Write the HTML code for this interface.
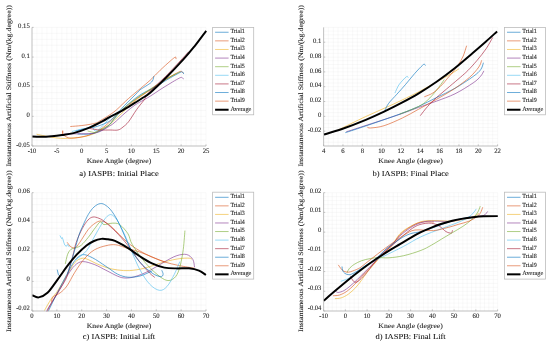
<!DOCTYPE html>
<html><head><meta charset="utf-8"><title>IASPB figure</title>
<style>html,body{margin:0;padding:0;background:#fff}svg{display:block}text{stroke:#262626;stroke-width:.1px;text-rendering:geometricPrecision}</style></head>
<body><svg width="550" height="344" viewBox="0 0 550 344" font-family="'Liberation Serif', 'DejaVu Serif', serif">
<rect width="550" height="344" fill="#fff"/>
<path d="M32.00 27.40V146.00M36.97 27.40V146.00M41.94 27.40V146.00M46.91 27.40V146.00M51.89 27.40V146.00M56.86 27.40V146.00M61.83 27.40V146.00M66.80 27.40V146.00M71.77 27.40V146.00M76.74 27.40V146.00M81.71 27.40V146.00M86.69 27.40V146.00M91.66 27.40V146.00M96.63 27.40V146.00M101.60 27.40V146.00M106.57 27.40V146.00M111.54 27.40V146.00M116.51 27.40V146.00M121.49 27.40V146.00M126.46 27.40V146.00M131.43 27.40V146.00M136.40 27.40V146.00M141.37 27.40V146.00M146.34 27.40V146.00M151.31 27.40V146.00M156.29 27.40V146.00M161.26 27.40V146.00M166.23 27.40V146.00M171.20 27.40V146.00M176.17 27.40V146.00M181.14 27.40V146.00M186.11 27.40V146.00M191.09 27.40V146.00M196.06 27.40V146.00M201.03 27.40V146.00M206.00 27.40V146.00M32.00 146.00H206.00M32.00 140.07H206.00M32.00 134.14H206.00M32.00 128.21H206.00M32.00 122.28H206.00M32.00 116.35H206.00M32.00 110.42H206.00M32.00 104.49H206.00M32.00 98.56H206.00M32.00 92.63H206.00M32.00 86.70H206.00M32.00 80.77H206.00M32.00 74.84H206.00M32.00 68.91H206.00M32.00 62.98H206.00M32.00 57.05H206.00M32.00 51.12H206.00M32.00 45.19H206.00M32.00 39.26H206.00M32.00 33.33H206.00M32.00 27.40H206.00" stroke="#e4e4e4" stroke-width="0.4" fill="none" opacity="0.55"/>
<path d="M37.0 134.3C38.3 134.6 41.9 135.4 45.0 136.0C48.1 136.6 52.1 137.4 55.6 137.8C59.1 138.2 61.6 138.5 65.9 138.4C70.2 138.3 76.9 137.7 81.2 137.1C85.5 136.5 88.4 135.7 91.5 134.6C94.6 133.5 96.9 132.3 100.0 130.5C103.1 128.7 106.7 126.6 110.0 124.0C113.3 121.4 115.8 118.8 120.0 115.0C124.2 111.2 130.0 105.2 135.0 101.0C140.0 96.8 145.0 93.5 150.0 90.0C155.0 86.5 160.8 82.7 165.0 80.0C169.2 77.3 173.3 75.0 175.0 74.0" stroke="#EDB120" stroke-width="0.85" stroke-opacity="0.72" fill="none" stroke-linecap="round" stroke-linejoin="round"/>
<path d="M70.7 126.5C72.5 126.3 78.0 126.0 81.2 125.6C84.5 125.2 87.6 124.8 90.2 124.3C92.8 123.8 95.0 123.4 96.6 122.8C98.2 122.2 98.1 121.9 100.0 120.8C101.9 119.7 105.3 117.8 108.0 116.0C110.7 114.2 112.9 112.9 116.3 110.0C119.7 107.1 124.4 102.1 128.5 98.5C132.6 94.9 137.1 91.3 140.7 88.3C144.3 85.2 146.9 83.2 150.2 80.2C153.4 77.2 156.9 73.4 160.2 70.2C163.5 67.0 167.8 63.2 170.2 61.1C172.5 59.0 173.4 58.4 174.3 57.7C175.2 57.0 175.3 56.8 175.6 57.0C175.9 57.2 175.9 58.4 176.0 58.7" stroke="#D95319" stroke-width="0.85" stroke-opacity="0.72" fill="none" stroke-linecap="round" stroke-linejoin="round"/>
<path d="M62.7 134.0C62.7 133.4 62.6 130.6 62.7 130.7C62.8 130.8 62.3 133.4 63.3 134.6C64.2 135.8 66.5 137.2 68.4 137.8C70.3 138.4 72.2 138.2 74.8 138.0C77.4 137.8 80.6 137.3 83.8 136.5C87.0 135.7 90.5 134.8 94.0 133.0C97.5 131.2 101.0 129.2 105.0 126.0C109.0 122.8 113.0 118.3 118.0 114.0C123.0 109.7 129.7 104.0 135.0 100.0C140.3 96.0 145.0 93.3 150.0 90.0C155.0 86.7 160.7 82.8 165.0 80.0C169.3 77.2 173.3 75.0 176.0 73.5C178.7 72.0 179.8 71.4 181.0 71.3C182.2 71.2 182.7 72.7 183.0 73.0" stroke="#D95319" stroke-width="0.85" stroke-opacity="0.72" fill="none" stroke-linecap="round" stroke-linejoin="round"/>
<path d="M76.0 131.0C77.5 130.6 81.8 129.2 85.0 128.5C88.2 127.8 91.5 127.9 95.0 127.0C98.5 126.1 103.1 124.4 106.0 123.0C108.9 121.6 109.1 121.7 112.2 118.8C115.3 115.9 120.8 109.4 124.4 105.6C128.0 101.8 131.4 98.6 134.0 96.0C136.6 93.4 138.4 91.3 140.0 89.9C141.6 88.5 141.8 88.8 143.5 87.6C145.2 86.4 148.9 84.3 150.5 83.0C152.1 81.7 152.6 80.6 153.1 79.5C153.6 78.4 153.6 77.1 153.7 76.6" stroke="#0072BD" stroke-width="0.85" stroke-opacity="0.72" fill="none" stroke-linecap="round" stroke-linejoin="round"/>
<path d="M78.0 134.0C80.0 134.0 86.3 134.5 90.0 134.0C93.7 133.5 97.0 132.3 100.0 131.0C103.0 129.7 105.5 128.2 108.0 126.0C110.5 123.8 112.2 121.2 115.0 118.0C117.8 114.8 120.8 110.8 125.0 107.0C129.2 103.2 135.0 98.3 140.0 95.0C145.0 91.7 150.0 89.8 155.0 87.0C160.0 84.2 165.8 80.4 170.0 78.0C174.2 75.6 177.9 73.5 180.0 72.5C182.1 71.5 182.0 71.8 182.6 72.0C183.2 72.2 183.3 73.3 183.5 73.6" stroke="#0072BD" stroke-width="0.85" stroke-opacity="0.72" fill="none" stroke-linecap="round" stroke-linejoin="round"/>
<path d="M64.6 134.0C66.8 134.0 73.5 133.9 78.0 133.8C82.5 133.7 87.8 133.9 91.5 133.5C95.2 133.1 97.2 132.6 100.0 131.5C102.8 130.4 105.7 128.4 108.0 127.0C110.3 125.6 111.2 125.3 114.0 123.0C116.8 120.7 121.5 116.0 125.0 113.0C128.5 110.0 131.9 107.2 135.0 105.0C138.1 102.8 141.1 101.5 143.7 100.0C146.3 98.5 148.1 97.5 150.8 95.8C153.5 94.1 156.8 91.8 160.0 89.7C163.2 87.7 167.0 85.3 170.0 83.5C173.0 81.7 176.1 79.8 178.0 78.8C179.9 77.8 180.6 77.4 181.5 77.4C182.4 77.4 183.0 78.6 183.3 78.8" stroke="#7E2F8E" stroke-width="0.85" stroke-opacity="0.72" fill="none" stroke-linecap="round" stroke-linejoin="round"/>
<path d="M88.0 131.0C89.2 131.2 93.0 132.7 95.0 132.5C97.0 132.3 98.2 130.9 100.0 130.0C101.8 129.1 104.3 127.9 106.0 127.0C107.7 126.1 108.3 126.3 110.0 124.5C111.7 122.7 113.5 118.9 116.0 116.0C118.5 113.1 121.0 110.3 125.0 107.0C129.0 103.7 135.0 99.5 140.0 96.0C145.0 92.5 150.0 89.2 155.0 86.0C160.0 82.8 165.8 79.3 170.0 77.0C174.2 74.7 178.3 72.8 180.0 72.0" stroke="#77AC30" stroke-width="0.85" stroke-opacity="0.72" fill="none" stroke-linecap="round" stroke-linejoin="round"/>
<path d="M72.3 131.4C73.6 131.1 77.4 130.1 80.0 129.5C82.6 128.9 86.0 128.6 88.0 128.0C90.0 127.4 90.8 125.5 92.0 126.0C93.2 126.5 93.7 130.6 95.0 131.0C96.3 131.4 98.2 130.0 100.0 128.5C101.8 127.0 104.0 124.1 106.0 122.0C108.0 119.9 111.0 117.0 112.0 116.0" stroke="#4DBEEE" stroke-width="0.85" stroke-opacity="0.72" fill="none" stroke-linecap="round" stroke-linejoin="round"/>
<path d="M90.0 128.5C91.7 128.8 96.7 129.8 100.0 130.0C103.3 130.2 107.0 130.0 110.0 130.0C113.0 130.0 115.8 130.5 118.0 130.0C120.2 129.5 121.2 128.4 123.0 127.0C124.8 125.6 126.2 124.7 128.5 121.8C130.8 118.9 134.1 113.1 136.6 109.6C139.1 106.0 141.5 103.5 143.7 100.5C145.9 97.5 146.2 95.5 149.8 91.5C153.4 87.5 159.9 82.1 165.4 76.6C170.9 71.1 178.8 62.4 182.6 58.3C186.4 54.2 187.4 53.0 188.3 52.0" stroke="#A2142F" stroke-width="0.85" stroke-opacity="0.72" fill="none" stroke-linecap="round" stroke-linejoin="round"/>
<path d="M32.2 136.5C33.8 136.6 38.7 136.9 42.0 136.8C45.3 136.8 48.5 136.5 51.8 136.2C55.1 135.9 58.4 135.5 62.0 135.0C65.6 134.5 69.2 134.2 73.6 133.1C78.0 132.0 83.3 130.2 88.2 128.2C93.1 126.2 99.1 123.1 102.7 121.2C106.3 119.3 107.1 118.4 110.0 116.8C112.9 115.2 117.0 113.5 120.3 111.7C123.6 109.9 126.4 108.0 130.0 105.8C133.6 103.6 138.3 100.7 141.7 98.5C145.1 96.3 146.4 95.9 150.5 92.4C154.6 88.9 160.7 83.0 166.2 77.5C171.7 72.0 178.9 64.4 183.6 59.2C188.3 54.0 190.7 51.0 194.5 46.3C198.3 41.6 204.2 33.4 206.2 30.8" stroke="#000" stroke-width="1.95" fill="none" stroke-linecap="butt"/>
<path d="M32.00 27.40V146.00H206.00 M32.00 146.00v-1.6M56.86 146.00v-1.6M81.71 146.00v-1.6M106.57 146.00v-1.6M131.43 146.00v-1.6M156.29 146.00v-1.6M181.14 146.00v-1.6M206.00 146.00v-1.6M32.00 146.00h1.6M32.00 116.35h1.6M32.00 86.70h1.6M32.00 57.05h1.6M32.00 27.40h1.6" stroke="#b4b4b4" stroke-width="0.8" fill="none"/>
<text x="32.0" y="153.4" font-size="6.8" text-anchor="middle" textLength="8.58" lengthAdjust="spacingAndGlyphs" fill="#262626">-10</text>
<text x="56.9" y="153.4" font-size="6.8" text-anchor="middle" textLength="5.23" lengthAdjust="spacingAndGlyphs" fill="#262626">-5</text>
<text x="81.7" y="153.4" font-size="6.8" text-anchor="middle" textLength="3.35" lengthAdjust="spacingAndGlyphs" fill="#262626">0</text>
<text x="106.6" y="153.4" font-size="6.8" text-anchor="middle" textLength="3.35" lengthAdjust="spacingAndGlyphs" fill="#262626">5</text>
<text x="131.4" y="153.4" font-size="6.8" text-anchor="middle" textLength="6.70" lengthAdjust="spacingAndGlyphs" fill="#262626">10</text>
<text x="156.3" y="153.4" font-size="6.8" text-anchor="middle" textLength="6.70" lengthAdjust="spacingAndGlyphs" fill="#262626">15</text>
<text x="181.1" y="153.4" font-size="6.8" text-anchor="middle" textLength="6.70" lengthAdjust="spacingAndGlyphs" fill="#262626">20</text>
<text x="206.0" y="153.4" font-size="6.8" text-anchor="middle" textLength="6.70" lengthAdjust="spacingAndGlyphs" fill="#262626">25</text>
<text x="29.8" y="146.5" font-size="6.8" text-anchor="end" textLength="13.60" lengthAdjust="spacingAndGlyphs" fill="#262626">-0.05</text>
<text x="29.8" y="116.9" font-size="6.8" text-anchor="end" textLength="3.35" lengthAdjust="spacingAndGlyphs" fill="#262626">0</text>
<text x="29.8" y="87.3" font-size="6.8" text-anchor="end" textLength="11.72" lengthAdjust="spacingAndGlyphs" fill="#262626">0.05</text>
<text x="29.8" y="57.8" font-size="6.8" text-anchor="end" textLength="8.38" lengthAdjust="spacingAndGlyphs" fill="#262626">0.1</text>
<text x="29.8" y="28.2" font-size="6.8" text-anchor="end" textLength="11.72" lengthAdjust="spacingAndGlyphs" fill="#262626">0.15</text>
<text x="119.0" y="163.0" font-size="6.8" text-anchor="middle" textLength="64.5" lengthAdjust="spacingAndGlyphs" fill="#262626">Knee Angle (degree)</text>
<text x="119.0" y="176.1" font-size="7.7" text-anchor="middle" textLength="79.5" lengthAdjust="spacingAndGlyphs" fill="#0a0a0a" style="stroke:#0a0a0a;stroke-width:.05px">a) IASPB: Initial Place</text>
<text transform="translate(10.8 85.8) rotate(-90)" font-size="6.8" text-anchor="middle" textLength="161.5" lengthAdjust="spacingAndGlyphs" fill="#262626">Instantaneous Artificial Stiffness (Nm/(kg.degree))</text>
<rect x="212.60" y="27.40" width="41.1" height="87.4" fill="#fff" stroke="#bcbcbc" stroke-width="0.8"/>
<path d="M215.1 32.25H228.6" stroke="#0072BD" stroke-width="1" stroke-opacity="0.58"/>
<text x="230.4" y="33.1" font-size="6.3" textLength="14.5" lengthAdjust="spacingAndGlyphs" fill="#262626">Trial1</text>
<path d="M215.1 40.86H228.6" stroke="#D95319" stroke-width="1" stroke-opacity="0.58"/>
<text x="230.4" y="41.8" font-size="6.3" textLength="14.5" lengthAdjust="spacingAndGlyphs" fill="#262626">Trial2</text>
<path d="M215.1 49.47H228.6" stroke="#EDB120" stroke-width="1" stroke-opacity="0.58"/>
<text x="230.4" y="50.4" font-size="6.3" textLength="14.5" lengthAdjust="spacingAndGlyphs" fill="#262626">Trial3</text>
<path d="M215.1 58.08H228.6" stroke="#7E2F8E" stroke-width="1" stroke-opacity="0.58"/>
<text x="230.4" y="59.0" font-size="6.3" textLength="14.5" lengthAdjust="spacingAndGlyphs" fill="#262626">Trial4</text>
<path d="M215.1 66.69H228.6" stroke="#77AC30" stroke-width="1" stroke-opacity="0.58"/>
<text x="230.4" y="67.6" font-size="6.3" textLength="14.5" lengthAdjust="spacingAndGlyphs" fill="#262626">Trial5</text>
<path d="M215.1 75.30H228.6" stroke="#4DBEEE" stroke-width="1" stroke-opacity="0.58"/>
<text x="230.4" y="76.2" font-size="6.3" textLength="14.5" lengthAdjust="spacingAndGlyphs" fill="#262626">Trial6</text>
<path d="M215.1 83.91H228.6" stroke="#A2142F" stroke-width="1" stroke-opacity="0.58"/>
<text x="230.4" y="84.8" font-size="6.3" textLength="14.5" lengthAdjust="spacingAndGlyphs" fill="#262626">Trial7</text>
<path d="M215.1 92.52H228.6" stroke="#0072BD" stroke-width="1" stroke-opacity="0.58"/>
<text x="230.4" y="93.4" font-size="6.3" textLength="14.5" lengthAdjust="spacingAndGlyphs" fill="#262626">Trial8</text>
<path d="M215.1 101.13H228.6" stroke="#D95319" stroke-width="1" stroke-opacity="0.58"/>
<text x="230.4" y="102.0" font-size="6.3" textLength="14.5" lengthAdjust="spacingAndGlyphs" fill="#262626">Trial9</text>
<path d="M215.1 109.74H228.6" stroke="#000" stroke-width="2"/>
<text x="230.4" y="110.6" font-size="6.3" textLength="21" lengthAdjust="spacingAndGlyphs" fill="#262626">Average</text>
<path d="M323.60 27.40V146.00M328.43 27.40V146.00M333.27 27.40V146.00M338.10 27.40V146.00M342.93 27.40V146.00M347.77 27.40V146.00M352.60 27.40V146.00M357.43 27.40V146.00M362.27 27.40V146.00M367.10 27.40V146.00M371.93 27.40V146.00M376.77 27.40V146.00M381.60 27.40V146.00M386.43 27.40V146.00M391.27 27.40V146.00M396.10 27.40V146.00M400.93 27.40V146.00M405.77 27.40V146.00M410.60 27.40V146.00M415.43 27.40V146.00M420.27 27.40V146.00M425.10 27.40V146.00M429.93 27.40V146.00M434.77 27.40V146.00M439.60 27.40V146.00M444.43 27.40V146.00M449.27 27.40V146.00M454.10 27.40V146.00M458.93 27.40V146.00M463.77 27.40V146.00M468.60 27.40V146.00M473.43 27.40V146.00M478.27 27.40V146.00M483.10 27.40V146.00M487.93 27.40V146.00M492.77 27.40V146.00M497.60 27.40V146.00M323.60 146.00H497.60M323.60 142.29H497.60M323.60 138.59H497.60M323.60 134.88H497.60M323.60 131.17H497.60M323.60 127.47H497.60M323.60 123.76H497.60M323.60 120.06H497.60M323.60 116.35H497.60M323.60 112.64H497.60M323.60 108.94H497.60M323.60 105.23H497.60M323.60 101.52H497.60M323.60 97.82H497.60M323.60 94.11H497.60M323.60 90.41H497.60M323.60 86.70H497.60M323.60 82.99H497.60M323.60 79.29H497.60M323.60 75.58H497.60M323.60 71.88H497.60M323.60 68.17H497.60M323.60 64.46H497.60M323.60 60.76H497.60M323.60 57.05H497.60M323.60 53.34H497.60M323.60 49.64H497.60M323.60 45.93H497.60M323.60 42.22H497.60M323.60 38.52H497.60M323.60 34.81H497.60M323.60 31.11H497.60M323.60 27.40H497.60" stroke="#e4e4e4" stroke-width="0.4" fill="none" opacity="0.55"/>
<path d="M338.3 129.9C342.9 127.7 356.6 120.8 365.8 116.5C375.0 112.2 384.6 108.3 393.3 104.2C402.1 100.1 411.1 95.7 418.3 92.0C425.5 88.3 431.1 85.0 436.6 81.9C442.1 78.9 447.6 75.9 451.3 73.7C455.0 71.5 457.4 69.8 458.6 69.0" stroke="#EDB120" stroke-width="0.85" stroke-opacity="0.72" fill="none" stroke-linecap="round" stroke-linejoin="round"/>
<path d="M385.0 110.3C385.6 109.1 386.7 106.0 388.7 103.3C390.7 100.6 394.1 97.3 396.9 94.2C399.7 91.1 402.5 88.0 405.5 84.5C408.5 81.0 411.9 76.7 414.7 73.5C417.5 70.3 420.9 66.8 422.5 65.3C424.1 63.8 424.0 64.3 424.5 64.3C425.0 64.3 425.2 65.0 425.3 65.2" stroke="#0072BD" stroke-width="0.85" stroke-opacity="0.72" fill="none" stroke-linecap="round" stroke-linejoin="round"/>
<path d="M395.1 92.7C395.7 91.4 397.5 87.1 398.8 85.0C400.1 82.9 401.8 81.4 403.0 80.0C404.2 78.6 405.5 77.4 406.3 76.8C407.1 76.2 407.3 76.5 407.6 76.6C407.9 76.7 407.9 77.3 408.0 77.4" stroke="#4DBEEE" stroke-width="0.85" stroke-opacity="0.72" fill="none" stroke-linecap="round" stroke-linejoin="round"/>
<path d="M346.6 131.7C351.3 130.2 365.7 125.5 375.0 122.5C384.3 119.5 395.2 115.9 402.4 113.4C409.6 110.9 412.6 109.5 418.3 107.5C424.0 105.5 430.5 103.4 436.6 101.1C442.7 98.8 448.9 96.8 455.0 93.8C461.1 90.8 469.0 85.7 473.3 82.8C477.6 79.9 478.9 78.1 480.6 76.2C482.3 74.3 483.2 72.0 483.7 71.2" stroke="#7E2F8E" stroke-width="0.85" stroke-opacity="0.72" fill="none" stroke-linecap="round" stroke-linejoin="round"/>
<path d="M345.6 132.6C346.8 132.2 348.1 131.8 353.0 130.2C357.9 128.6 367.2 125.5 375.0 122.8C382.8 120.1 392.8 116.7 400.0 114.0C407.2 111.3 412.2 109.3 418.3 106.6C424.4 103.8 430.5 100.5 436.6 97.5C442.7 94.5 448.9 91.8 455.0 88.3C461.1 84.8 469.0 79.5 473.3 76.4C477.6 73.3 478.9 72.0 480.6 69.8C482.3 67.6 482.9 64.2 483.3 63.1" stroke="#0072BD" stroke-width="0.85" stroke-opacity="0.72" fill="none" stroke-linecap="round" stroke-linejoin="round"/>
<path d="M367.3 126.8C367.8 127.0 367.6 128.2 370.4 128.0C373.2 127.8 378.8 127.4 384.1 125.7C389.4 124.0 396.7 120.7 402.4 118.0C408.1 115.3 412.6 112.5 418.3 109.4C424.0 106.3 430.5 102.8 436.6 99.3C442.7 95.8 449.5 92.0 455.0 88.3C460.5 84.6 465.6 80.8 469.6 77.3C473.6 73.8 476.8 69.8 478.8 67.0C480.8 64.2 481.1 61.8 481.5 60.7" stroke="#D95319" stroke-width="0.85" stroke-opacity="0.72" fill="none" stroke-linecap="round" stroke-linejoin="round"/>
<path d="M400.0 114.0C403.1 112.8 413.7 108.9 418.3 106.6C422.9 104.3 424.4 103.0 427.5 100.2C430.6 97.5 433.9 93.5 436.6 90.1C439.4 86.7 442.8 81.7 444.0 80.0" stroke="#77AC30" stroke-width="0.85" stroke-opacity="0.72" fill="none" stroke-linecap="round" stroke-linejoin="round"/>
<path d="M424.7 96.6C426.1 96.0 430.1 94.9 433.0 92.9C435.9 90.9 439.7 87.2 442.1 84.7C444.5 82.2 445.8 80.4 447.6 78.2C449.4 76.0 451.3 74.1 453.1 71.8C454.9 69.5 456.9 66.9 458.6 64.3C460.3 61.7 461.9 59.1 463.2 56.1C464.5 53.1 465.9 47.8 466.5 46.1" stroke="#D95319" stroke-width="0.85" stroke-opacity="0.72" fill="none" stroke-linecap="round" stroke-linejoin="round"/>
<path d="M420.5 115.4C421.7 113.9 424.8 109.6 427.5 106.6C430.2 103.6 432.9 100.8 436.6 97.5C440.3 94.2 445.5 89.9 449.5 86.5C453.5 83.1 457.3 80.0 460.4 77.3C463.4 74.6 465.1 73.4 467.8 70.6C470.6 67.8 473.8 64.2 476.9 60.6C479.9 57.0 483.5 52.6 486.1 48.8C488.7 45.0 491.4 39.6 492.5 37.8" stroke="#A2142F" stroke-width="0.85" stroke-opacity="0.72" fill="none" stroke-linecap="round" stroke-linejoin="round"/>
<path d="M324.0 134.5C327.0 133.6 335.0 131.4 342.0 129.0C349.0 126.5 358.8 122.7 365.8 119.8C372.8 116.9 378.0 114.5 384.1 111.6C390.2 108.7 396.7 105.4 402.4 102.4C408.1 99.4 412.6 97.0 418.3 93.6C424.0 90.2 430.5 86.1 436.6 81.8C442.7 77.5 448.9 72.9 455.0 68.0C461.1 63.1 468.1 56.9 473.3 52.5C478.5 48.1 482.0 45.0 486.0 41.5C490.0 38.0 495.2 33.1 497.1 31.4" stroke="#000" stroke-width="1.95" fill="none" stroke-linecap="butt"/>
<path d="M323.60 27.40V146.00H497.60 M323.60 146.00v-1.6M342.93 146.00v-1.6M362.27 146.00v-1.6M381.60 146.00v-1.6M400.93 146.00v-1.6M420.27 146.00v-1.6M439.60 146.00v-1.6M458.93 146.00v-1.6M478.27 146.00v-1.6M497.60 146.00v-1.6M323.60 131.17h1.6M323.60 116.35h1.6M323.60 101.52h1.6M323.60 86.70h1.6M323.60 71.88h1.6M323.60 57.05h1.6M323.60 42.22h1.6" stroke="#b4b4b4" stroke-width="0.8" fill="none"/>
<text x="323.6" y="153.4" font-size="6.8" text-anchor="middle" textLength="3.35" lengthAdjust="spacingAndGlyphs" fill="#262626">4</text>
<text x="342.9" y="153.4" font-size="6.8" text-anchor="middle" textLength="3.35" lengthAdjust="spacingAndGlyphs" fill="#262626">6</text>
<text x="362.3" y="153.4" font-size="6.8" text-anchor="middle" textLength="3.35" lengthAdjust="spacingAndGlyphs" fill="#262626">8</text>
<text x="381.6" y="153.4" font-size="6.8" text-anchor="middle" textLength="6.70" lengthAdjust="spacingAndGlyphs" fill="#262626">10</text>
<text x="400.9" y="153.4" font-size="6.8" text-anchor="middle" textLength="6.70" lengthAdjust="spacingAndGlyphs" fill="#262626">12</text>
<text x="420.3" y="153.4" font-size="6.8" text-anchor="middle" textLength="6.70" lengthAdjust="spacingAndGlyphs" fill="#262626">14</text>
<text x="439.6" y="153.4" font-size="6.8" text-anchor="middle" textLength="6.70" lengthAdjust="spacingAndGlyphs" fill="#262626">16</text>
<text x="458.9" y="153.4" font-size="6.8" text-anchor="middle" textLength="6.70" lengthAdjust="spacingAndGlyphs" fill="#262626">18</text>
<text x="478.3" y="153.4" font-size="6.8" text-anchor="middle" textLength="6.70" lengthAdjust="spacingAndGlyphs" fill="#262626">20</text>
<text x="497.6" y="153.4" font-size="6.8" text-anchor="middle" textLength="6.70" lengthAdjust="spacingAndGlyphs" fill="#262626">22</text>
<text x="321.4" y="131.7" font-size="6.8" text-anchor="end" textLength="13.60" lengthAdjust="spacingAndGlyphs" fill="#262626">-0.02</text>
<text x="321.4" y="116.9" font-size="6.8" text-anchor="end" textLength="3.35" lengthAdjust="spacingAndGlyphs" fill="#262626">0</text>
<text x="321.4" y="102.1" font-size="6.8" text-anchor="end" textLength="11.72" lengthAdjust="spacingAndGlyphs" fill="#262626">0.02</text>
<text x="321.4" y="87.3" font-size="6.8" text-anchor="end" textLength="11.72" lengthAdjust="spacingAndGlyphs" fill="#262626">0.04</text>
<text x="321.4" y="72.6" font-size="6.8" text-anchor="end" textLength="11.72" lengthAdjust="spacingAndGlyphs" fill="#262626">0.06</text>
<text x="321.4" y="57.8" font-size="6.8" text-anchor="end" textLength="11.72" lengthAdjust="spacingAndGlyphs" fill="#262626">0.08</text>
<text x="321.4" y="43.0" font-size="6.8" text-anchor="end" textLength="8.38" lengthAdjust="spacingAndGlyphs" fill="#262626">0.1</text>
<text x="410.6" y="163.0" font-size="6.8" text-anchor="middle" textLength="64.5" lengthAdjust="spacingAndGlyphs" fill="#262626">Knee Angle (degree)</text>
<text x="410.6" y="176.0" font-size="7.7" text-anchor="middle" textLength="76.4" lengthAdjust="spacingAndGlyphs" fill="#0a0a0a" style="stroke:#0a0a0a;stroke-width:.05px">b) IASPB: Final Place</text>
<text transform="translate(302.5 85.8) rotate(-90)" font-size="6.8" text-anchor="middle" textLength="161.5" lengthAdjust="spacingAndGlyphs" fill="#262626">Instantaneous Artificial Stiffness (Nm/(kg.degree))</text>
<rect x="504.50" y="27.40" width="41.1" height="87.4" fill="#fff" stroke="#bcbcbc" stroke-width="0.8"/>
<path d="M507.0 32.25H520.5" stroke="#0072BD" stroke-width="1" stroke-opacity="0.58"/>
<text x="522.3" y="33.1" font-size="6.3" textLength="14.5" lengthAdjust="spacingAndGlyphs" fill="#262626">Trial1</text>
<path d="M507.0 40.86H520.5" stroke="#D95319" stroke-width="1" stroke-opacity="0.58"/>
<text x="522.3" y="41.8" font-size="6.3" textLength="14.5" lengthAdjust="spacingAndGlyphs" fill="#262626">Trial2</text>
<path d="M507.0 49.47H520.5" stroke="#EDB120" stroke-width="1" stroke-opacity="0.58"/>
<text x="522.3" y="50.4" font-size="6.3" textLength="14.5" lengthAdjust="spacingAndGlyphs" fill="#262626">Trial3</text>
<path d="M507.0 58.08H520.5" stroke="#7E2F8E" stroke-width="1" stroke-opacity="0.58"/>
<text x="522.3" y="59.0" font-size="6.3" textLength="14.5" lengthAdjust="spacingAndGlyphs" fill="#262626">Trial4</text>
<path d="M507.0 66.69H520.5" stroke="#77AC30" stroke-width="1" stroke-opacity="0.58"/>
<text x="522.3" y="67.6" font-size="6.3" textLength="14.5" lengthAdjust="spacingAndGlyphs" fill="#262626">Trial5</text>
<path d="M507.0 75.30H520.5" stroke="#4DBEEE" stroke-width="1" stroke-opacity="0.58"/>
<text x="522.3" y="76.2" font-size="6.3" textLength="14.5" lengthAdjust="spacingAndGlyphs" fill="#262626">Trial6</text>
<path d="M507.0 83.91H520.5" stroke="#A2142F" stroke-width="1" stroke-opacity="0.58"/>
<text x="522.3" y="84.8" font-size="6.3" textLength="14.5" lengthAdjust="spacingAndGlyphs" fill="#262626">Trial7</text>
<path d="M507.0 92.52H520.5" stroke="#0072BD" stroke-width="1" stroke-opacity="0.58"/>
<text x="522.3" y="93.4" font-size="6.3" textLength="14.5" lengthAdjust="spacingAndGlyphs" fill="#262626">Trial8</text>
<path d="M507.0 101.13H520.5" stroke="#D95319" stroke-width="1" stroke-opacity="0.58"/>
<text x="522.3" y="102.0" font-size="6.3" textLength="14.5" lengthAdjust="spacingAndGlyphs" fill="#262626">Trial9</text>
<path d="M507.0 109.74H520.5" stroke="#000" stroke-width="2"/>
<text x="522.3" y="110.6" font-size="6.3" textLength="21" lengthAdjust="spacingAndGlyphs" fill="#262626">Average</text>
<path d="M32.00 192.70V311.00M36.97 192.70V311.00M41.94 192.70V311.00M46.91 192.70V311.00M51.89 192.70V311.00M56.86 192.70V311.00M61.83 192.70V311.00M66.80 192.70V311.00M71.77 192.70V311.00M76.74 192.70V311.00M81.71 192.70V311.00M86.69 192.70V311.00M91.66 192.70V311.00M96.63 192.70V311.00M101.60 192.70V311.00M106.57 192.70V311.00M111.54 192.70V311.00M116.51 192.70V311.00M121.49 192.70V311.00M126.46 192.70V311.00M131.43 192.70V311.00M136.40 192.70V311.00M141.37 192.70V311.00M146.34 192.70V311.00M151.31 192.70V311.00M156.29 192.70V311.00M161.26 192.70V311.00M166.23 192.70V311.00M171.20 192.70V311.00M176.17 192.70V311.00M181.14 192.70V311.00M186.11 192.70V311.00M191.09 192.70V311.00M196.06 192.70V311.00M201.03 192.70V311.00M206.00 192.70V311.00M32.00 311.00H206.00M32.00 305.09H206.00M32.00 299.17H206.00M32.00 293.25H206.00M32.00 287.34H206.00M32.00 281.43H206.00M32.00 275.51H206.00M32.00 269.60H206.00M32.00 263.68H206.00M32.00 257.76H206.00M32.00 251.85H206.00M32.00 245.94H206.00M32.00 240.02H206.00M32.00 234.11H206.00M32.00 228.19H206.00M32.00 222.28H206.00M32.00 216.36H206.00M32.00 210.44H206.00M32.00 204.53H206.00M32.00 198.62H206.00M32.00 192.70H206.00" stroke="#e4e4e4" stroke-width="0.4" fill="none" opacity="0.55"/>
<path d="M44.6 310.3C45.7 308.4 49.3 301.7 51.4 298.6C53.5 295.5 54.6 295.4 57.2 291.5C59.8 287.6 64.1 279.8 67.0 275.0C69.9 270.2 72.3 265.3 74.8 262.5C77.3 259.7 79.8 258.8 82.0 258.3C84.2 257.8 85.6 258.6 88.0 259.5C90.4 260.4 93.2 262.2 96.2 263.5C99.2 264.8 102.4 266.3 106.0 267.4C109.6 268.5 113.7 269.5 117.7 270.0C121.7 270.5 125.3 270.9 129.8 270.6C134.3 270.3 138.8 269.6 144.6 268.1C150.4 266.7 158.6 263.5 164.4 261.9C170.2 260.3 175.1 259.3 179.2 258.7C183.3 258.1 186.9 258.1 189.0 258.2C191.1 258.2 191.1 258.9 191.5 259.0" stroke="#EDB120" stroke-width="0.85" stroke-opacity="0.72" fill="none" stroke-linecap="round" stroke-linejoin="round"/>
<path d="M46.8 311.0C47.1 310.4 46.8 310.3 48.6 307.4C50.4 304.5 54.3 298.9 57.4 293.7C60.5 288.5 64.1 280.9 67.0 276.2C69.9 271.5 72.2 267.9 74.8 265.5C77.4 263.1 79.3 261.8 82.6 261.6C85.8 261.4 90.4 263.1 94.3 264.5C98.2 265.9 102.1 268.4 106.0 270.3C109.9 272.2 114.5 274.9 117.7 276.2C120.9 277.5 122.1 277.9 124.9 278.0C127.8 278.1 130.7 277.9 134.8 276.7C138.9 275.5 144.7 273.1 149.6 270.6C154.5 268.1 159.9 264.4 164.4 261.9C168.9 259.4 173.0 256.9 176.7 255.7C180.4 254.5 183.9 253.9 186.6 254.5C189.3 255.1 191.5 257.3 192.8 259.4C194.1 261.5 194.2 265.6 194.5 266.9" stroke="#7E2F8E" stroke-width="0.85" stroke-opacity="0.72" fill="none" stroke-linecap="round" stroke-linejoin="round"/>
<path d="M57.3 270.0L58.4 274.7L60.0 276.0" stroke="#0072BD" stroke-width="0.85" stroke-opacity="0.72" fill="none" stroke-linecap="round" stroke-linejoin="round"/>
<path d="M48.4 311.0C50.0 307.8 54.7 297.9 57.8 291.8C60.9 285.7 64.2 279.4 67.0 274.2C69.8 269.0 72.2 263.9 74.8 260.6C77.4 257.4 79.7 255.2 82.6 254.7C85.5 254.2 88.4 255.8 92.3 257.7C96.2 259.6 101.8 263.6 106.0 266.4C110.2 269.1 114.0 272.4 117.7 274.2C121.4 276.0 124.3 276.9 128.0 277.2C131.7 277.5 136.0 277.0 140.0 276.0C144.0 275.0 150.0 271.8 152.0 271.0" stroke="#0072BD" stroke-width="0.85" stroke-opacity="0.72" fill="none" stroke-linecap="round" stroke-linejoin="round"/>
<path d="M51.4 301.5C51.7 300.7 51.8 298.1 53.3 296.7C54.8 295.2 57.9 294.6 60.2 292.8C62.5 291.0 64.6 289.3 67.0 285.9C69.4 282.5 71.9 276.9 74.8 272.3C77.7 267.8 81.2 262.3 84.5 258.6C87.8 254.9 90.7 252.1 94.3 249.9C97.9 247.8 102.4 246.5 106.0 245.7C109.6 244.8 112.4 244.4 115.9 244.8C119.5 245.2 123.3 247.1 127.3 248.3C131.3 249.5 135.6 250.6 139.7 252.0C143.8 253.4 147.8 255.3 152.0 257.0C156.2 258.7 162.8 261.2 165.0 262.0" stroke="#D95319" stroke-width="0.85" stroke-opacity="0.72" fill="none" stroke-linecap="round" stroke-linejoin="round"/>
<path d="M67.4 242.6C68.0 243.3 69.6 246.0 70.9 246.8C72.2 247.7 73.8 248.4 75.3 247.7C76.8 247.0 77.5 245.6 79.7 242.5C81.9 239.4 85.9 232.5 88.4 229.3C91.0 226.1 93.0 224.7 95.0 223.3C97.0 221.9 98.5 221.1 100.3 221.0C102.1 220.9 104.0 221.7 106.0 222.8C108.0 223.9 108.7 224.2 112.2 227.4C115.8 230.6 122.7 238.3 127.3 242.2C131.9 246.1 135.6 248.3 139.7 250.8C143.8 253.3 147.9 255.2 152.0 257.0C156.1 258.9 159.9 260.5 164.4 261.9C168.9 263.3 174.3 264.6 179.2 265.6C184.1 266.6 191.5 267.7 194.0 268.1" stroke="#D95319" stroke-width="0.85" stroke-opacity="0.72" fill="none" stroke-linecap="round" stroke-linejoin="round"/>
<path d="M65.4 263.5C65.8 262.0 66.6 257.1 67.5 254.7C68.4 252.3 69.5 250.6 70.9 249.4C72.4 248.2 74.5 248.4 76.2 247.7C78.0 247.0 79.4 246.8 81.4 245.1C83.4 243.3 86.1 240.1 88.4 237.2C90.7 234.3 93.4 230.1 95.4 227.6C97.4 225.1 98.9 222.4 100.3 221.9C101.7 221.4 102.0 224.4 104.0 224.6C106.0 224.8 109.6 223.2 112.2 223.2C114.8 223.2 117.0 222.8 119.6 224.6C122.2 226.4 125.9 230.5 128.0 233.8C130.1 237.1 129.5 239.9 132.3 244.6C135.1 249.3 140.5 256.9 144.6 261.9C148.7 266.8 153.3 271.2 157.0 274.3C160.7 277.4 164.0 279.8 166.9 280.4C169.8 281.0 172.2 279.9 174.3 278.0C176.4 276.1 177.8 273.6 179.2 269.3C180.6 265.0 181.9 258.4 182.9 252.0C183.9 245.6 184.6 234.5 184.9 231.0" stroke="#77AC30" stroke-width="0.85" stroke-opacity="0.72" fill="none" stroke-linecap="round" stroke-linejoin="round"/>
<path d="M60.1 235.8L61.5 238.5L62.3 237.6L63.1 239.8L64.0 243.0L64.8 245.1L66.3 246.3L67.5 244.5L69.2 246.8" stroke="#4DBEEE" stroke-width="0.85" stroke-opacity="0.72" fill="none" stroke-linecap="round" stroke-linejoin="round"/>
<path d="M75.8 259.6C77.6 258.1 83.5 254.5 86.5 250.8C89.5 247.1 91.4 241.9 93.9 237.5C96.4 233.1 99.3 227.9 101.3 224.6C103.3 221.3 104.5 219.2 106.0 217.5C107.5 215.8 109.1 214.8 110.4 214.6C111.7 214.4 112.8 215.4 114.0 216.5C115.2 217.6 115.9 217.8 117.7 221.0C119.5 224.2 123.1 231.2 125.1 235.6C127.1 239.9 127.4 241.5 129.8 247.1C132.2 252.7 136.4 263.1 139.7 269.3C143.0 275.5 146.3 280.6 149.6 284.1C152.9 287.6 156.5 289.9 159.4 290.3C162.3 290.7 164.4 289.3 166.9 286.6C169.4 283.9 172.2 278.4 174.3 274.3C176.4 270.2 178.8 264.0 179.7 261.9" stroke="#4DBEEE" stroke-width="0.85" stroke-opacity="0.72" fill="none" stroke-linecap="round" stroke-linejoin="round"/>
<path d="M47.4 311.0C48.2 309.5 50.2 305.2 52.0 302.0C53.8 298.8 56.0 295.2 58.0 292.0C60.0 288.8 62.5 285.2 64.0 282.5C65.5 279.8 65.5 280.4 67.0 276.0C68.5 271.6 71.2 262.0 72.7 256.4C74.2 250.8 74.6 247.2 76.2 242.5C77.8 237.8 80.3 232.2 82.3 228.5C84.3 224.8 86.2 221.9 88.0 220.0C89.8 218.1 91.2 217.3 93.0 217.0C94.8 216.7 97.0 217.5 99.0 218.3C101.0 219.1 102.2 219.6 105.0 221.9C107.8 224.2 112.3 228.2 116.0 232.0C119.7 235.8 123.3 239.6 127.3 244.6C131.2 249.6 136.0 257.2 139.7 261.9C143.4 266.6 147.1 270.4 149.6 273.0C152.1 275.6 153.7 276.5 154.5 277.2" stroke="#A2142F" stroke-width="0.85" stroke-opacity="0.72" fill="none" stroke-linecap="round" stroke-linejoin="round"/>
<path d="M67.5 273.9C68.7 270.1 72.5 257.6 74.4 251.2C76.3 244.8 77.3 239.9 78.8 235.5C80.3 231.1 81.6 228.5 83.2 225.0C84.8 221.5 86.6 217.3 88.4 214.3C90.2 211.3 92.0 208.8 94.0 207.0C96.0 205.2 98.3 203.8 100.3 203.6C102.3 203.3 104.0 204.1 106.0 205.5C108.0 206.9 109.9 208.6 112.2 211.8C114.5 215.0 116.7 218.7 119.6 224.6C122.5 230.5 126.5 240.9 129.8 247.1C133.2 253.3 136.0 257.6 139.7 261.9C143.4 266.2 148.5 270.5 152.0 273.0C155.5 275.5 158.8 276.5 160.7 276.7C162.5 276.9 162.9 275.3 163.1 274.3C163.3 273.3 162.1 271.2 161.9 270.6" stroke="#0072BD" stroke-width="0.85" stroke-opacity="0.72" fill="none" stroke-linecap="round" stroke-linejoin="round"/>
<path d="M32.3 295.3C33.4 295.6 36.2 297.8 38.7 297.4C41.2 297.0 44.4 295.7 47.5 292.8C50.6 289.9 54.0 284.5 57.2 280.1C60.5 275.7 63.8 270.6 67.0 266.4C70.2 262.2 73.5 258.2 76.7 254.7C80.0 251.2 83.6 247.8 86.5 245.5C89.4 243.2 91.5 242.1 94.0 241.0C96.5 239.9 99.0 239.2 101.3 238.9C103.6 238.6 105.7 239.0 108.0 239.3C110.3 239.6 111.8 239.5 115.0 240.9C118.2 242.3 123.2 245.1 127.3 247.6C131.4 250.1 135.6 253.6 139.7 256.2C143.8 258.8 147.9 261.5 152.0 263.4C156.1 265.3 160.3 266.8 164.4 267.6C168.5 268.4 172.6 268.3 176.7 268.4C180.8 268.5 185.3 267.9 189.0 268.3C192.7 268.7 196.2 269.5 199.0 270.6C201.8 271.7 204.8 274.3 205.9 275.0" stroke="#000" stroke-width="1.95" fill="none" stroke-linecap="butt"/>
<path d="M32.00 192.70V311.00H206.00 M32.00 311.00v-1.6M56.86 311.00v-1.6M81.71 311.00v-1.6M106.57 311.00v-1.6M131.43 311.00v-1.6M156.29 311.00v-1.6M181.14 311.00v-1.6M206.00 311.00v-1.6M32.00 311.00h1.6M32.00 281.43h1.6M32.00 251.85h1.6M32.00 222.28h1.6M32.00 192.70h1.6" stroke="#b4b4b4" stroke-width="0.8" fill="none"/>
<text x="32.0" y="318.4" font-size="6.8" text-anchor="middle" textLength="3.35" lengthAdjust="spacingAndGlyphs" fill="#262626">0</text>
<text x="56.9" y="318.4" font-size="6.8" text-anchor="middle" textLength="6.70" lengthAdjust="spacingAndGlyphs" fill="#262626">10</text>
<text x="81.7" y="318.4" font-size="6.8" text-anchor="middle" textLength="6.70" lengthAdjust="spacingAndGlyphs" fill="#262626">20</text>
<text x="106.6" y="318.4" font-size="6.8" text-anchor="middle" textLength="6.70" lengthAdjust="spacingAndGlyphs" fill="#262626">30</text>
<text x="131.4" y="318.4" font-size="6.8" text-anchor="middle" textLength="6.70" lengthAdjust="spacingAndGlyphs" fill="#262626">40</text>
<text x="156.3" y="318.4" font-size="6.8" text-anchor="middle" textLength="6.70" lengthAdjust="spacingAndGlyphs" fill="#262626">50</text>
<text x="181.1" y="318.4" font-size="6.8" text-anchor="middle" textLength="6.70" lengthAdjust="spacingAndGlyphs" fill="#262626">60</text>
<text x="206.0" y="318.4" font-size="6.8" text-anchor="middle" textLength="6.70" lengthAdjust="spacingAndGlyphs" fill="#262626">70</text>
<text x="29.8" y="310.0" font-size="6.8" text-anchor="end" textLength="13.60" lengthAdjust="spacingAndGlyphs" fill="#262626">-0.02</text>
<text x="29.8" y="280.7" font-size="6.8" text-anchor="end" textLength="3.35" lengthAdjust="spacingAndGlyphs" fill="#262626">0</text>
<text x="29.8" y="251.4" font-size="6.8" text-anchor="end" textLength="11.72" lengthAdjust="spacingAndGlyphs" fill="#262626">0.02</text>
<text x="29.8" y="222.0" font-size="6.8" text-anchor="end" textLength="11.72" lengthAdjust="spacingAndGlyphs" fill="#262626">0.04</text>
<text x="29.8" y="192.7" font-size="6.8" text-anchor="end" textLength="11.72" lengthAdjust="spacingAndGlyphs" fill="#262626">0.06</text>
<text x="119.0" y="328.0" font-size="6.8" text-anchor="middle" textLength="64.5" lengthAdjust="spacingAndGlyphs" fill="#262626">Knee Angle (degree)</text>
<text x="119.0" y="339.2" font-size="7.7" text-anchor="middle" textLength="72.5" lengthAdjust="spacingAndGlyphs" fill="#0a0a0a" style="stroke:#0a0a0a;stroke-width:.05px">c) IASPB: Initial Lift</text>
<text transform="translate(10.8 251.2) rotate(-90)" font-size="6.8" text-anchor="middle" textLength="161.5" lengthAdjust="spacingAndGlyphs" fill="#262626">Instantaneous Artificial Stiffness (Nm/(kg.degree))</text>
<rect x="212.60" y="192.20" width="41.1" height="86.9" fill="#fff" stroke="#bcbcbc" stroke-width="0.8"/>
<path d="M215.1 197.30H228.6" stroke="#0072BD" stroke-width="1" stroke-opacity="0.58"/>
<text x="230.4" y="198.2" font-size="6.3" textLength="14.5" lengthAdjust="spacingAndGlyphs" fill="#262626">Trial1</text>
<path d="M215.1 205.86H228.6" stroke="#D95319" stroke-width="1" stroke-opacity="0.58"/>
<text x="230.4" y="206.8" font-size="6.3" textLength="14.5" lengthAdjust="spacingAndGlyphs" fill="#262626">Trial2</text>
<path d="M215.1 214.42H228.6" stroke="#EDB120" stroke-width="1" stroke-opacity="0.58"/>
<text x="230.4" y="215.3" font-size="6.3" textLength="14.5" lengthAdjust="spacingAndGlyphs" fill="#262626">Trial3</text>
<path d="M215.1 222.98H228.6" stroke="#7E2F8E" stroke-width="1" stroke-opacity="0.58"/>
<text x="230.4" y="223.9" font-size="6.3" textLength="14.5" lengthAdjust="spacingAndGlyphs" fill="#262626">Trial4</text>
<path d="M215.1 231.54H228.6" stroke="#77AC30" stroke-width="1" stroke-opacity="0.58"/>
<text x="230.4" y="232.4" font-size="6.3" textLength="14.5" lengthAdjust="spacingAndGlyphs" fill="#262626">Trial5</text>
<path d="M215.1 240.10H228.6" stroke="#4DBEEE" stroke-width="1" stroke-opacity="0.58"/>
<text x="230.4" y="241.0" font-size="6.3" textLength="14.5" lengthAdjust="spacingAndGlyphs" fill="#262626">Trial6</text>
<path d="M215.1 248.66H228.6" stroke="#A2142F" stroke-width="1" stroke-opacity="0.58"/>
<text x="230.4" y="249.6" font-size="6.3" textLength="14.5" lengthAdjust="spacingAndGlyphs" fill="#262626">Trial7</text>
<path d="M215.1 257.22H228.6" stroke="#0072BD" stroke-width="1" stroke-opacity="0.58"/>
<text x="230.4" y="258.1" font-size="6.3" textLength="14.5" lengthAdjust="spacingAndGlyphs" fill="#262626">Trial8</text>
<path d="M215.1 265.78H228.6" stroke="#D95319" stroke-width="1" stroke-opacity="0.58"/>
<text x="230.4" y="266.7" font-size="6.3" textLength="14.5" lengthAdjust="spacingAndGlyphs" fill="#262626">Trial9</text>
<path d="M215.1 274.34H228.6" stroke="#000" stroke-width="2"/>
<text x="230.4" y="275.2" font-size="6.3" textLength="21" lengthAdjust="spacingAndGlyphs" fill="#262626">Average</text>
<path d="M323.60 192.70V311.00M327.95 192.70V311.00M332.30 192.70V311.00M336.65 192.70V311.00M341.00 192.70V311.00M345.35 192.70V311.00M349.70 192.70V311.00M354.05 192.70V311.00M358.40 192.70V311.00M362.75 192.70V311.00M367.10 192.70V311.00M371.45 192.70V311.00M375.80 192.70V311.00M380.15 192.70V311.00M384.50 192.70V311.00M388.85 192.70V311.00M393.20 192.70V311.00M397.55 192.70V311.00M401.90 192.70V311.00M406.25 192.70V311.00M410.60 192.70V311.00M414.95 192.70V311.00M419.30 192.70V311.00M423.65 192.70V311.00M428.00 192.70V311.00M432.35 192.70V311.00M436.70 192.70V311.00M441.05 192.70V311.00M445.40 192.70V311.00M449.75 192.70V311.00M454.10 192.70V311.00M458.45 192.70V311.00M462.80 192.70V311.00M467.15 192.70V311.00M471.50 192.70V311.00M475.85 192.70V311.00M480.20 192.70V311.00M484.55 192.70V311.00M488.90 192.70V311.00M493.25 192.70V311.00M497.60 192.70V311.00M323.60 311.00H497.60M323.60 307.06H497.60M323.60 303.11H497.60M323.60 299.17H497.60M323.60 295.23H497.60M323.60 291.28H497.60M323.60 287.34H497.60M323.60 283.40H497.60M323.60 279.45H497.60M323.60 275.51H497.60M323.60 271.57H497.60M323.60 267.62H497.60M323.60 263.68H497.60M323.60 259.74H497.60M323.60 255.79H497.60M323.60 251.85H497.60M323.60 247.91H497.60M323.60 243.96H497.60M323.60 240.02H497.60M323.60 236.08H497.60M323.60 232.13H497.60M323.60 228.19H497.60M323.60 224.25H497.60M323.60 220.30H497.60M323.60 216.36H497.60M323.60 212.42H497.60M323.60 208.47H497.60M323.60 204.53H497.60M323.60 200.59H497.60M323.60 196.64H497.60M323.60 192.70H497.60" stroke="#e4e4e4" stroke-width="0.4" fill="none" opacity="0.55"/>
<path d="M335.3 298.6C336.3 298.5 338.9 298.6 341.1 297.9C343.3 297.2 345.9 295.9 348.3 294.2C350.7 292.5 353.4 290.0 355.6 287.7C357.8 285.4 359.5 282.9 361.4 280.4C363.3 277.8 365.2 274.9 367.2 272.4C369.1 269.9 370.9 267.8 373.1 265.2C375.4 262.6 377.7 259.8 380.7 256.7C383.7 253.5 387.9 250.1 391.1 246.3C394.3 242.5 396.8 237.0 400.0 233.7C403.2 230.4 407.0 228.4 410.5 226.4C414.0 224.4 417.4 222.8 420.9 221.8C424.4 220.8 426.2 220.6 431.4 220.5C436.6 220.4 446.7 221.4 452.3 221.2C457.9 220.9 461.4 219.8 465.0 219.0C468.6 218.2 471.8 217.4 474.0 216.5C476.2 215.6 477.7 214.0 478.4 213.5" stroke="#EDB120" stroke-width="0.85" stroke-opacity="0.72" fill="none" stroke-linecap="round" stroke-linejoin="round"/>
<path d="M333.5 295.7C334.5 295.6 337.4 295.7 339.6 295.0C341.8 294.3 344.5 293.0 346.9 291.3C349.3 289.6 351.8 287.2 354.2 284.8C356.6 282.4 359.0 279.5 361.4 276.8C363.8 274.1 366.5 271.1 368.7 268.8C370.9 266.5 372.1 265.6 374.5 263.0C376.9 260.4 379.7 256.7 382.8 253.5C385.9 250.3 390.1 247.1 393.0 244.0C395.9 240.9 397.1 237.6 400.0 234.7C402.9 231.8 407.0 228.9 410.5 226.8C414.0 224.7 417.1 223.0 420.9 222.2C424.7 221.4 431.4 222.0 433.5 222.0" stroke="#D95319" stroke-width="0.85" stroke-opacity="0.72" fill="none" stroke-linecap="round" stroke-linejoin="round"/>
<path d="M336.0 291.3C336.4 291.5 336.9 292.6 338.2 292.5C339.5 292.4 342.1 291.6 344.0 290.6C345.9 289.6 347.6 288.1 349.8 286.3C352.0 284.5 354.7 282.0 357.1 279.7C359.5 277.4 361.9 274.8 364.3 272.4C366.7 270.0 368.5 268.5 371.6 265.2C374.7 261.9 379.2 256.3 382.8 252.6C386.4 248.9 390.3 245.9 393.2 243.1C396.1 240.3 396.8 238.6 400.0 235.8C403.2 233.0 408.4 228.8 412.6 226.4C416.8 224.0 420.9 222.5 425.1 221.6C429.3 220.7 433.2 221.3 437.7 221.2C442.2 221.1 446.9 221.8 452.3 221.2C457.7 220.6 465.4 218.3 470.0 217.5C474.6 216.7 477.6 216.6 480.0 216.2C482.4 215.8 483.5 215.7 484.7 214.9C485.9 214.2 486.9 212.2 487.4 211.7" stroke="#7E2F8E" stroke-width="0.85" stroke-opacity="0.72" fill="none" stroke-linecap="round" stroke-linejoin="round"/>
<path d="M350.5 276.1C351.0 277.0 352.3 280.2 353.4 281.2C354.5 282.2 355.5 282.6 357.1 281.9C358.7 281.2 360.7 279.1 362.9 276.8C365.1 274.5 368.0 270.8 370.2 268.1C372.4 265.4 373.5 263.5 376.0 260.8C378.5 258.1 381.7 255.1 385.0 252.0C388.3 248.9 391.8 245.7 396.0 242.0C400.2 238.3 406.0 232.9 410.0 230.0C414.0 227.1 416.4 225.6 420.0 224.5C423.6 223.4 428.1 222.9 431.4 223.2C434.7 223.5 437.3 225.0 439.7 226.4C442.1 227.8 444.1 230.5 446.0 231.6C447.9 232.7 450.2 233.3 451.3 233.1C452.4 232.9 452.1 231.0 452.3 230.6" stroke="#A2142F" stroke-width="0.85" stroke-opacity="0.72" fill="none" stroke-linecap="round" stroke-linejoin="round"/>
<path d="M341.1 281.2C341.8 280.9 343.9 280.3 345.4 279.7C346.8 279.1 347.7 278.9 349.8 277.5C351.9 276.1 355.3 273.6 358.0 271.5C360.7 269.4 361.9 267.6 366.0 265.1C370.1 262.6 376.5 259.8 382.8 256.7C389.1 253.6 397.4 249.6 403.7 246.3C410.0 243.0 414.5 239.8 420.9 236.8C427.2 233.8 435.5 230.9 441.8 228.5C448.1 226.1 454.1 224.1 458.6 222.2C463.1 220.3 466.4 218.8 469.0 217.0C471.6 215.2 473.1 213.0 474.3 211.7C475.5 210.4 475.7 209.6 476.0 209.2" stroke="#4DBEEE" stroke-width="0.85" stroke-opacity="0.72" fill="none" stroke-linecap="round" stroke-linejoin="round"/>
<path d="M347.3 272.2C347.6 271.6 348.0 270.1 349.1 268.8C350.2 267.5 352.1 265.7 354.2 264.4C356.2 263.1 358.7 261.8 361.4 260.8C364.1 259.8 367.4 259.1 370.2 258.6C373.0 258.1 374.9 257.7 378.0 257.6C381.1 257.5 384.7 258.1 389.0 257.8C393.3 257.5 398.4 256.9 403.7 255.7C409.0 254.5 416.3 252.2 420.9 250.4C425.5 248.7 427.9 247.1 431.4 245.2C434.9 243.3 438.3 241.0 441.8 238.9C445.3 236.8 448.8 234.8 452.3 232.7C455.8 230.6 459.7 228.5 462.8 226.4C465.9 224.3 468.7 222.4 471.1 220.1C473.5 217.8 475.9 215.1 477.4 212.8C478.9 210.5 479.7 207.6 480.1 206.5" stroke="#77AC30" stroke-width="0.85" stroke-opacity="0.72" fill="none" stroke-linecap="round" stroke-linejoin="round"/>
<path d="M338.5 265.2C338.9 265.8 340.2 267.8 341.1 268.8C342.0 269.8 342.8 270.7 344.0 271.3C345.2 271.9 346.9 272.2 348.3 272.2C349.8 272.1 350.8 271.7 352.7 271.0C354.6 270.3 357.8 269.1 360.0 267.8C362.2 266.5 363.6 264.9 365.8 263.2C368.0 261.5 370.2 259.8 373.0 257.6C375.8 255.4 379.1 252.8 382.8 250.0C386.5 247.2 391.6 243.6 395.3 241.0C399.0 238.4 401.7 236.3 405.0 234.5C408.3 232.7 410.2 230.7 415.0 230.0C419.8 229.3 428.0 231.0 433.5 230.6C439.0 230.2 443.9 228.4 448.1 227.4C452.3 226.4 455.1 225.3 458.6 224.3C462.1 223.3 466.0 222.4 469.0 221.2C472.0 220.0 474.5 218.4 476.4 217.0C478.3 215.6 479.5 214.4 480.5 212.8C481.5 211.2 482.2 208.5 482.6 207.6" stroke="#D95319" stroke-width="0.85" stroke-opacity="0.72" fill="none" stroke-linecap="round" stroke-linejoin="round"/>
<path d="M342.1 266.9C342.2 267.5 342.1 269.2 342.5 270.3C342.9 271.4 343.7 272.5 344.7 273.2C345.7 273.9 346.9 274.6 348.3 274.6C349.7 274.7 350.8 274.6 353.0 273.5C355.2 272.4 358.2 270.5 361.8 268.2C365.4 265.9 370.2 263.2 374.4 259.9C378.6 256.6 382.6 251.9 386.9 248.4C391.2 244.9 396.1 241.4 400.0 238.9C403.9 236.4 407.0 234.9 410.5 233.7C414.0 232.5 416.8 232.7 420.9 231.6C425.0 230.5 429.8 228.8 435.0 227.0C440.2 225.2 446.2 222.7 452.0 221.0C457.8 219.3 467.0 217.7 470.0 217.0" stroke="#0072BD" stroke-width="0.85" stroke-opacity="0.72" fill="none" stroke-linecap="round" stroke-linejoin="round"/>
<path d="M323.8 300.7C325.6 299.1 330.7 294.6 334.6 291.3C338.5 288.0 342.7 284.5 347.2 280.8C351.7 277.1 356.9 273.0 361.8 269.3C366.7 265.6 371.6 262.1 376.5 258.8C381.4 255.5 387.2 251.8 391.1 249.4C395.0 247.0 396.8 246.1 400.0 244.2C403.2 242.3 407.0 239.8 410.5 237.8C414.0 235.8 417.4 233.9 420.9 232.2C424.4 230.5 427.9 229.0 431.4 227.6C434.9 226.2 438.3 224.9 441.8 223.8C445.3 222.7 448.8 221.7 452.3 220.8C455.8 219.9 459.3 219.2 462.8 218.6C466.3 218.0 469.7 217.6 473.2 217.2C476.7 216.8 479.6 216.5 483.7 216.3C487.8 216.1 495.4 216.1 497.8 216.1" stroke="#000" stroke-width="1.95" fill="none" stroke-linecap="butt"/>
<path d="M323.60 192.70V311.00H497.60 M323.60 311.00v-1.6M345.35 311.00v-1.6M367.10 311.00v-1.6M388.85 311.00v-1.6M410.60 311.00v-1.6M432.35 311.00v-1.6M454.10 311.00v-1.6M475.85 311.00v-1.6M497.60 311.00v-1.6M323.60 311.00h1.6M323.60 291.28h1.6M323.60 271.57h1.6M323.60 251.85h1.6M323.60 232.13h1.6M323.60 212.42h1.6M323.60 192.70h1.6" stroke="#b4b4b4" stroke-width="0.8" fill="none"/>
<text x="323.6" y="318.4" font-size="6.8" text-anchor="middle" textLength="8.58" lengthAdjust="spacingAndGlyphs" fill="#262626">-10</text>
<text x="345.4" y="318.4" font-size="6.8" text-anchor="middle" textLength="3.35" lengthAdjust="spacingAndGlyphs" fill="#262626">0</text>
<text x="367.1" y="318.4" font-size="6.8" text-anchor="middle" textLength="6.70" lengthAdjust="spacingAndGlyphs" fill="#262626">10</text>
<text x="388.9" y="318.4" font-size="6.8" text-anchor="middle" textLength="6.70" lengthAdjust="spacingAndGlyphs" fill="#262626">20</text>
<text x="410.6" y="318.4" font-size="6.8" text-anchor="middle" textLength="6.70" lengthAdjust="spacingAndGlyphs" fill="#262626">30</text>
<text x="432.4" y="318.4" font-size="6.8" text-anchor="middle" textLength="6.70" lengthAdjust="spacingAndGlyphs" fill="#262626">40</text>
<text x="454.1" y="318.4" font-size="6.8" text-anchor="middle" textLength="6.70" lengthAdjust="spacingAndGlyphs" fill="#262626">50</text>
<text x="475.9" y="318.4" font-size="6.8" text-anchor="middle" textLength="6.70" lengthAdjust="spacingAndGlyphs" fill="#262626">60</text>
<text x="497.6" y="318.4" font-size="6.8" text-anchor="middle" textLength="6.70" lengthAdjust="spacingAndGlyphs" fill="#262626">70</text>
<text x="321.4" y="310.0" font-size="6.8" text-anchor="end" textLength="13.60" lengthAdjust="spacingAndGlyphs" fill="#262626">-0.04</text>
<text x="321.4" y="290.4" font-size="6.8" text-anchor="end" textLength="13.60" lengthAdjust="spacingAndGlyphs" fill="#262626">-0.03</text>
<text x="321.4" y="270.9" font-size="6.8" text-anchor="end" textLength="13.60" lengthAdjust="spacingAndGlyphs" fill="#262626">-0.02</text>
<text x="321.4" y="251.3" font-size="6.8" text-anchor="end" textLength="13.60" lengthAdjust="spacingAndGlyphs" fill="#262626">-0.01</text>
<text x="321.4" y="231.8" font-size="6.8" text-anchor="end" textLength="3.35" lengthAdjust="spacingAndGlyphs" fill="#262626">0</text>
<text x="321.4" y="212.2" font-size="6.8" text-anchor="end" textLength="11.72" lengthAdjust="spacingAndGlyphs" fill="#262626">0.01</text>
<text x="321.4" y="192.7" font-size="6.8" text-anchor="end" textLength="11.72" lengthAdjust="spacingAndGlyphs" fill="#262626">0.02</text>
<text x="410.6" y="328.0" font-size="6.8" text-anchor="middle" textLength="64.5" lengthAdjust="spacingAndGlyphs" fill="#262626">Knee Angle (degree)</text>
<text x="410.6" y="339.2" font-size="7.7" text-anchor="middle" textLength="70.3" lengthAdjust="spacingAndGlyphs" fill="#0a0a0a" style="stroke:#0a0a0a;stroke-width:.05px">d) IASPB: Final Lift</text>
<text transform="translate(302.5 251.2) rotate(-90)" font-size="6.8" text-anchor="middle" textLength="161.5" lengthAdjust="spacingAndGlyphs" fill="#262626">Instantaneous Artificial Stiffness (Nm/(kg.degree))</text>
<rect x="504.50" y="192.20" width="41.1" height="86.9" fill="#fff" stroke="#bcbcbc" stroke-width="0.8"/>
<path d="M507.0 197.30H520.5" stroke="#0072BD" stroke-width="1" stroke-opacity="0.58"/>
<text x="522.3" y="198.2" font-size="6.3" textLength="14.5" lengthAdjust="spacingAndGlyphs" fill="#262626">Trial1</text>
<path d="M507.0 205.86H520.5" stroke="#D95319" stroke-width="1" stroke-opacity="0.58"/>
<text x="522.3" y="206.8" font-size="6.3" textLength="14.5" lengthAdjust="spacingAndGlyphs" fill="#262626">Trial2</text>
<path d="M507.0 214.42H520.5" stroke="#EDB120" stroke-width="1" stroke-opacity="0.58"/>
<text x="522.3" y="215.3" font-size="6.3" textLength="14.5" lengthAdjust="spacingAndGlyphs" fill="#262626">Trial3</text>
<path d="M507.0 222.98H520.5" stroke="#7E2F8E" stroke-width="1" stroke-opacity="0.58"/>
<text x="522.3" y="223.9" font-size="6.3" textLength="14.5" lengthAdjust="spacingAndGlyphs" fill="#262626">Trial4</text>
<path d="M507.0 231.54H520.5" stroke="#77AC30" stroke-width="1" stroke-opacity="0.58"/>
<text x="522.3" y="232.4" font-size="6.3" textLength="14.5" lengthAdjust="spacingAndGlyphs" fill="#262626">Trial5</text>
<path d="M507.0 240.10H520.5" stroke="#4DBEEE" stroke-width="1" stroke-opacity="0.58"/>
<text x="522.3" y="241.0" font-size="6.3" textLength="14.5" lengthAdjust="spacingAndGlyphs" fill="#262626">Trial6</text>
<path d="M507.0 248.66H520.5" stroke="#A2142F" stroke-width="1" stroke-opacity="0.58"/>
<text x="522.3" y="249.6" font-size="6.3" textLength="14.5" lengthAdjust="spacingAndGlyphs" fill="#262626">Trial7</text>
<path d="M507.0 257.22H520.5" stroke="#0072BD" stroke-width="1" stroke-opacity="0.58"/>
<text x="522.3" y="258.1" font-size="6.3" textLength="14.5" lengthAdjust="spacingAndGlyphs" fill="#262626">Trial8</text>
<path d="M507.0 265.78H520.5" stroke="#D95319" stroke-width="1" stroke-opacity="0.58"/>
<text x="522.3" y="266.7" font-size="6.3" textLength="14.5" lengthAdjust="spacingAndGlyphs" fill="#262626">Trial9</text>
<path d="M507.0 274.34H520.5" stroke="#000" stroke-width="2"/>
<text x="522.3" y="275.2" font-size="6.3" textLength="21" lengthAdjust="spacingAndGlyphs" fill="#262626">Average</text>
</svg></body></html>
